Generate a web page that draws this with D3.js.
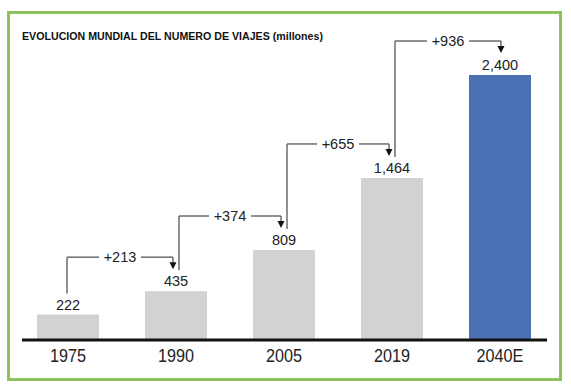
<!DOCTYPE html>
<html><head><meta charset="utf-8">
<script src="https://cdn.jsdelivr.net/npm/d3@7"></script>
<style>
html,body{margin:0;padding:0;background:#fff;}
svg{display:block;}
text{font-family:"Liberation Sans",Arial,Helvetica,sans-serif;}
</style></head>
<body>
<script>
const categories = ["1975","1990","2005","2019","2040E"];
const values = [222, 435, 809, 1464, 2400];
const valueLabels = ["222","435","809","1,464","2,400"];
const deltaLabels = ["+213","+374","+655","+936"];
const barColors = ["#d1d2d4","#d1d2d4","#d1d2d4","#d1d2d4","#4b70b4"];
const title = "EVOLUCION MUNDIAL DEL NUMERO DE VIAJES (millones)";

const W = 571, H = 390;
const svg = d3.select("body").append("svg").attr("width", W).attr("height", H);

// frame
svg.append("rect").attr("x", 8.5).attr("y", 12.5).attr("width", 552).attr("height", 367)
  .attr("fill", "#fff").attr("stroke", "#8cc45a").attr("stroke-width", 3);

svg.append("text").attr("x", 22).attr("y", 40).attr("font-size", 11.5).attr("font-weight", "bold")
  .attr("fill", "#111").attr("textLength", 301).attr("lengthAdjust", "spacingAndGlyphs").text(title);

const x = d3.scaleBand().domain(categories).range([14, 554]).paddingInner(0.426).paddingOuter(0.213);
const y = d3.scaleLinear().domain([0, 2400]).range([339, 75]);

svg.selectAll("rect.bar").data(values).enter().append("rect").attr("class", "bar")
  .attr("x", (d, i) => x(categories[i])).attr("width", x.bandwidth())
  .attr("y", d => y(d)).attr("height", d => y(0) - y(d))
  .attr("fill", (d, i) => barColors[i]);

// baseline / x axis
const axis = svg.append("g").attr("transform", `translate(0,${y(0)})`)
  .call(d3.axisBottom(x).tickSize(0).tickPadding(10));
axis.select(".domain").remove();
axis.append("line").attr("x1", 22).attr("x2", 547).attr("y1", 1).attr("y2", 1)
  .attr("stroke", "#111").attr("stroke-width", 3);
axis.selectAll(".tick text").attr("font-size", 18).attr("fill", "#222")
  .attr("font-family", "'Liberation Sans',Arial,sans-serif").attr("dy", "0.71em")
  .attr("transform", "scale(0.9,1)");

const cx = i => x(categories[i]) + x.bandwidth() / 2;

// value labels
svg.selectAll("text.val").data(values).enter().append("text").attr("class", "val")
  .attr("x", (d, i) => cx(i)).attr("y", d => y(d) - 5)
  .attr("text-anchor", "middle").attr("font-size", 14.5).attr("fill", "#222")
  .text((d, i) => valueLabels[i]);

// connectors
const g = svg.append("g");
deltaLabels.forEach((lab, i) => {
  const sx = cx(i) + (i === 0 ? -1 : 3);
  const tx = cx(i + 1) + (i === 3 ? 1 : -3);
  const tipY = y(values[i + 1]) - 22;
  const hy = tipY - 12;
  const sBottom = y(values[i]) - 21;
  const mid = (sx + tx) / 2;
  const half = 21;
  const col = "#555";
  g.append("line").attr("x1", sx).attr("x2", sx).attr("y1", sBottom).attr("y2", hy)
    .attr("stroke", col).attr("stroke-width", 1.3);
  g.append("line").attr("x1", sx).attr("x2", mid - half).attr("y1", hy).attr("y2", hy)
    .attr("stroke", col).attr("stroke-width", 1.3);
  g.append("line").attr("x1", mid + half).attr("x2", tx).attr("y1", hy).attr("y2", hy)
    .attr("stroke", col).attr("stroke-width", 1.3);
  g.append("line").attr("x1", tx).attr("x2", tx).attr("y1", hy).attr("y2", tipY - 5)
    .attr("stroke", col).attr("stroke-width", 1.3);
  g.append("path").attr("d", `M${tx - 3.5},${tipY - 7}L${tx + 3.5},${tipY - 7}L${tx},${tipY}Z`)
    .attr("fill", "#111");
  g.append("text").attr("x", mid).attr("y", hy + 5).attr("text-anchor", "middle")
    .attr("font-size", 14.5).attr("fill", "#222").text(lab);
});
</script>
</body></html>
